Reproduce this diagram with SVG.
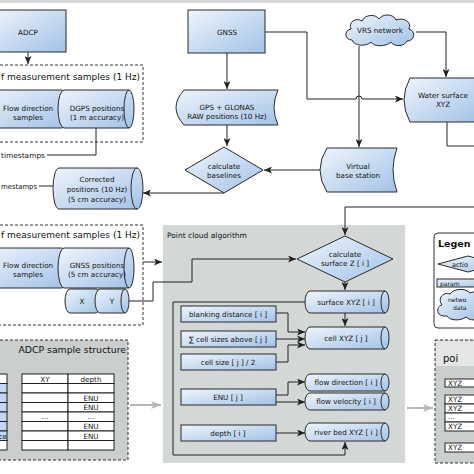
<svg xmlns="http://www.w3.org/2000/svg" width="474" height="474" viewBox="0 0 474 474">
<defs>
<linearGradient id="bl" x1="0" y1="0" x2="1" y2="1">
<stop offset="0" stop-color="#eff5fc"/>
<stop offset="1" stop-color="#a2c2e7"/>
</linearGradient>
<marker id="a" markerWidth="8" markerHeight="7" refX="8" refY="3.5" orient="auto" markerUnits="userSpaceOnUse"><path d="M0,0 L8,3.5 L0,7 L2,3.5 Z" fill="#222"/></marker>
<marker id="ag" markerWidth="10" markerHeight="8" refX="10" refY="4" orient="auto" markerUnits="userSpaceOnUse"><path d="M0,0 L10,4 L0,8 L2.5,4 Z" fill="#b4b7b7"/></marker>
<style>
text{font-family:"DejaVu Sans","Liberation Sans",sans-serif;fill:#111;font-size:7.2px}
.c{text-anchor:middle}
.n{fill:url(#bl);stroke:#2a2a2a;stroke-width:1}
.cap{fill:none;stroke:#2a2a2a;stroke-width:1}
.k{fill:none;stroke:#222;stroke-width:1}
.kg{fill:none;stroke:#b4b7b7;stroke-width:2}
.d{fill:none;stroke:#333;stroke-width:1;stroke-dasharray:3 2}
.t{font-size:9.3px}
.cell{fill:#fff;stroke:#222;stroke-width:1}
.cb{fill:#c3d8f0;stroke:#222;stroke-width:1}
</style>
</defs>
<rect x="0" y="0" width="474" height="3" fill="#d6d6d6"/>

<!-- containers -->
<g id="box-samples-1">
<rect x="-5" y="65" width="148" height="77" class="d" style="fill:#fff"/>
<text x="1" y="80" class="t" textLength="139" lengthAdjust="spacingAndGlyphs">f measurement samples (1 Hz)</text>
</g>
<g id="box-samples-2">
<rect x="-5" y="225" width="148" height="100" class="d" style="fill:#fff"/>
<text x="1" y="238" class="t" textLength="139" lengthAdjust="spacingAndGlyphs">f measurement samples (1 Hz)</text>
</g>
<g id="point-cloud-algorithm">
<rect x="163" y="225" width="242" height="238" fill="#d3d7d6"/>
<text x="167" y="238" style="font-size:7.5px">Point cloud algorithm</text>
</g>
<g id="adcp-sample-structure">
<rect x="-5" y="340" width="133" height="120" class="d" style="fill:#cacecd"/>
<text x="126" y="353" style="font-size:9.3px" text-anchor="end">ADCP sample structure</text>
<rect x="-30" y="374" width="37" height="9.5" class="cell"/>
<rect x="-30" y="383.5" width="37" height="9.5" class="cb"/>
<rect x="-30" y="393" width="37" height="9.5" class="cb"/>
<rect x="-30" y="402.5" width="37" height="9.5" class="cb"/>
<rect x="-30" y="412" width="37" height="9.5" class="cb"/>
<rect x="-30" y="421.5" width="37" height="9.5" class="cb"/>
<rect x="-30" y="431" width="37" height="9.5" class="cb"/>
<rect x="-30" y="440.5" width="37" height="9.5" class="cell"/>
<text x="7" y="439" text-anchor="end">ce</text>
<g>
<rect x="22" y="374" width="46" height="9.5" class="cell"/><rect x="68" y="374" width="46" height="9.5" class="cell"/>
<rect x="22" y="383.5" width="46" height="9.5" class="cell"/><rect x="68" y="383.5" width="46" height="9.5" class="cell"/>
<rect x="22" y="393" width="46" height="9.5" class="cell"/><rect x="68" y="393" width="46" height="9.5" class="cell"/>
<rect x="22" y="402.5" width="46" height="9.5" class="cell"/><rect x="68" y="402.5" width="46" height="9.5" class="cell"/>
<rect x="22" y="412" width="46" height="9.5" class="cell"/><rect x="68" y="412" width="46" height="9.5" class="cell"/>
<rect x="22" y="421.5" width="46" height="9.5" class="cell"/><rect x="68" y="421.5" width="46" height="9.5" class="cell"/>
<rect x="22" y="431" width="46" height="9.5" class="cell"/><rect x="68" y="431" width="46" height="9.5" class="cell"/>
<rect x="22" y="440.5" width="46" height="9.5" class="cell"/><rect x="68" y="440.5" width="46" height="9.5" class="cell"/>
</g>
<text x="45" y="381.5" class="c">XY</text><text x="91" y="381.5" class="c">depth</text>
<text x="91" y="400.5" class="c">ENU</text>
<text x="91" y="410" class="c">ENU</text>
<text x="45" y="418.5" class="c">...</text><text x="91" y="418.5" class="c">...</text>
<text x="91" y="429" class="c">ENU</text>
<text x="91" y="438.5" class="c">ENU</text>
</g>
<g id="point-box">
<rect x="435" y="340" width="50" height="123" class="d" style="fill:#cacecd"/>
<rect x="436" y="341" width="40" height="25" fill="#e3e6e5"/>
<text x="443" y="362" style="font-size:10px">poi</text>
<rect x="445" y="379" width="40" height="8" class="cell"/>
<rect x="445" y="395" width="40" height="9" class="cell"/>
<rect x="445" y="404" width="40" height="9" class="cell"/>
<rect x="445" y="413" width="40" height="9" class="cell"/>
<rect x="445" y="422" width="40" height="9" class="cell"/>
<rect x="445" y="443" width="40" height="9" class="cell"/>
<text x="448" y="385.5">XYZ</text>
<text x="448" y="402">XYZ</text>
<text x="448" y="411">XYZ</text>
<text x="448" y="419">...</text>
<text x="448" y="429">XYZ</text>
<text x="448" y="450">XYZ</text>
</g>
<g id="legend">
<rect x="434" y="233" width="60" height="95" rx="4" fill="#fff" stroke="#333" stroke-width="1"/>
<text x="438" y="247" style="font-size:9.5px;font-weight:bold">Legen</text>
<polygon points="438,264 468,256 498,264 468,272" class="n"/>
<text x="452" y="266.5" style="font-size:6.5px">actio</text>
<rect x="437" y="279" width="50" height="8" class="n"/>
<text x="440" y="285.5" style="font-size:6px">param</text>
<path d="M444,316 C436,316 436,306 442,305 C437,299 443,291 450,294 C454,288 466,288 470,293 C476,290 484,294 482,300 L482,316 C478,321 470,321 466,317 C461,321 450,321 447,316 Z" class="n"/>
<text x="448" y="302" style="font-size:6px">netwo</text>
<text x="453" y="310" style="font-size:6px">data</text>
</g>

<!-- connectors -->
<g id="connectors">
<path d="M28,52 V64" class="k" marker-end="url(#a)"/>
<path d="M227,53 V89" class="k" marker-end="url(#a)"/>
<path d="M265,32 H307 V99 H356 A3,3 0 0 1 362,99 H403" class="k" marker-end="url(#a)"/>
<path d="M416,32 H446 V77" class="k" marker-end="url(#a)"/>
<path d="M359,46 V147" class="k" marker-end="url(#a)"/>
<path d="M447,122 V146 H480" class="k"/>
<path d="M480,207 H345 V235" class="k" marker-end="url(#a)"/>
<path d="M227,125 V146" class="k" marker-end="url(#a)"/>
<path d="M320,170 H264" class="k" marker-end="url(#a)"/>
<path d="M224,193 H143" class="k" marker-end="url(#a)"/>
<path d="M47,155 H96 V128" class="k"/>
<path d="M39,186 H53" class="k"/>
<path d="M143,262 H162" class="k" marker-end="url(#a)"/>
<path d="M129,301 H153 V282 H192 V259 H296" class="k" marker-end="url(#a)"/>
<path d="M345,282 V290" class="k" marker-end="url(#a)"/>
<path d="M345,313 V326" class="k" marker-end="url(#a)"/>
<path d="M276,313 H288 V332 H305" class="k" marker-end="url(#a)"/>
<path d="M276,339 H305" class="k" marker-end="url(#a)"/>
<path d="M276,362 H288 V345 H305" class="k" marker-end="url(#a)"/>
<path d="M276,395 H288 V382 H305" class="k" marker-end="url(#a)"/>
<path d="M276,402 H305" class="k" marker-end="url(#a)"/>
<path d="M276,433 H305" class="k" marker-end="url(#a)"/>
<path d="M305,302 H173 V455 H345 V442" class="k" marker-end="url(#a)"/>
<path d="M130,405 H161" class="kg" marker-end="url(#ag)"/>
<path d="M407,408 H433" class="kg" marker-end="url(#ag)"/>
</g>

<!-- nodes -->
<g id="adcp"><rect x="-10" y="10" width="76" height="42" class="n"/><text x="28" y="35" class="c">ADCP</text></g>
<g id="gnss"><rect x="188" y="10" width="77" height="43" class="n"/><text x="227" y="35" class="c">GNSS</text></g>
<g id="vrs-network">
<path d="M352,40 C344,40 344,30 351,29 C348,22 356,17 362,21 C365,14 376,14 379,19 C383,13 394,14 396,20 C404,17 412,22 409,29 C416,31 415,41 407,41 C404,47 394,47 391,42 C386,47 374,47 371,42 C366,47 354,46 352,40 Z" class="n"/>
<text x="380" y="33" class="c">VRS network</text>
</g>
<g id="water-surface">
<path d="M410,78 H480 V122 H410 Q398,100 410,78 Z" class="n"/>
<text x="443" y="98" class="c">Water surface</text><text x="443" y="107" class="c">XYZ</text>
</g>
<g id="gps-glonas">
<path d="M184,90 H278 Q270,107.5 278,125 H184 Q168,107.5 184,90 Z" class="n"/>
<text x="227" y="109.5" class="c">GPS + GLONAS</text><text x="227" y="119" class="c">RAW positions (10 Hz)</text>
</g>
<g id="calculate-baselines">
<polygon points="185,170 224,147 263,170 224,193" class="n"/>
<text x="224" y="168.5" class="c">calculate</text><text x="224" y="177.5" class="c">baselines</text>
</g>
<g id="virtual-base-station">
<path d="M327,148 H397 Q389,170 397,192 H327 Q313,170 327,148 Z" class="n"/>
<text x="358" y="168.5" class="c">Virtual</text><text x="358" y="177.5" class="c">base station</text>
</g>
<g id="corrected-positions">
<path d="M59,168 H137 A6,20.5 0 0 1 137,209 H59 A6,20.5 0 0 1 59,168 Z" class="n"/>
<path d="M137,168 A6,20.5 0 0 0 137,209" class="cap"/>
<text x="97" y="181.5" class="c">Corrected</text><text x="97" y="191.5" class="c">positions (10 Hz)</text><text x="97" y="201.5" class="c">(5 cm accuracy)</text>
</g>
<g id="flow-direction-1">
<path d="M-20,90 H62 A5,19 0 0 1 62,128 H-20 Z" class="n"/>
<text x="28" y="110.5" class="c">Flow direction</text><text x="28" y="119.5" class="c">samples</text>
</g>
<g id="dgps-positions">
<path d="M64,90 H129 A5,19 0 0 1 129,128 H64 A6,19 0 0 1 64,90 Z" class="n"/>
<path d="M129,90 A5,19 0 0 0 129,128" class="cap"/>
<text x="97" y="110.5" class="c">DGPS positions</text><text x="97" y="119.5" class="c">(1 m accuracy)</text>
</g>
<g id="timestamps"><text x="1" y="157.5" textLength="44" lengthAdjust="spacingAndGlyphs">timestamps</text></g>
<g id="timestamps-2"><text x="1" y="188.5" textLength="36" lengthAdjust="spacingAndGlyphs">mestamps</text></g>
<g id="flow-direction-2">
<path d="M-20,248 H62 A5,20 0 0 1 62,288 H-20 Z" class="n"/>
<text x="28" y="267.5" class="c">Flow direction</text><text x="28" y="276.5" class="c">samples</text>
</g>
<g id="gnss-positions">
<path d="M64,248 H129 A5,20 0 0 1 129,288 H64 A6,20 0 0 1 64,248 Z" class="n"/>
<path d="M129,248 A5,20 0 0 0 129,288" class="cap"/>
<text x="97" y="267.5" class="c">GNSS positions</text><text x="97" y="276.5" class="c">(5 cm accuracy)</text>
</g>
<g id="x">
<path d="M70,289 H96 A4,12 0 0 1 96,313 H70 A5,12 0 0 1 70,289 Z" class="n"/>
<text x="82" y="304" class="c">X</text>
</g>
<g id="y">
<path d="M100,289 H125 A4,12 0 0 1 125,313 H100 A5,12 0 0 1 100,289 Z" class="n"/>
<path d="M125,289 A4,12 0 0 0 125,313" class="cap"/>
<text x="112" y="304" class="c">Y</text>
</g>
<g id="calculate-surface-z">
<polygon points="297,259 345,236 393,259 345,282" class="n"/>
<text x="345" y="256.5" class="c">calculate</text><text x="345" y="266" class="c">surface Z [ i ]</text>
</g>
<g id="surface-xyz">
<path d="M310,291 H385 A4,11 0 0 1 385,313 H310 A5,11 0 0 1 310,291 Z" class="n"/>
<path d="M385,291 A4,11 0 0 0 385,313" class="cap"/>
<text x="346" y="305" class="c">surface XYZ [ i ]</text>
</g>
<g id="cell-xyz">
<path d="M310,327 H385 A4,11 0 0 1 385,349 H310 A5,11 0 0 1 310,327 Z" class="n"/>
<path d="M385,327 A4,11 0 0 0 385,349" class="cap"/>
<text x="346" y="341" class="c">cell XYZ [ j ]</text>
</g>
<g id="flow-direction-i">
<path d="M310,374 H385 A4,8.5 0 0 1 385,391 H310 A5,8.5 0 0 1 310,374 Z" class="n"/>
<path d="M385,374 A4,8.5 0 0 0 385,391" class="cap"/>
<text x="346" y="385" class="c">flow direction [ i ]</text>
</g>
<g id="flow-velocity-i">
<path d="M310,393 H385 A4,8.5 0 0 1 385,410 H310 A5,8.5 0 0 1 310,393 Z" class="n"/>
<path d="M385,393 A4,8.5 0 0 0 385,410" class="cap"/>
<text x="346" y="404" class="c">flow velocity [ i ]</text>
</g>
<g id="river-bed-xyz">
<path d="M310,423 H385 A4,9 0 0 1 385,441 H310 A5,9 0 0 1 310,423 Z" class="n"/>
<path d="M385,423 A4,9 0 0 0 385,441" class="cap"/>
<text x="346" y="434.5" class="c">river bed XYZ [ i ]</text>
</g>
<g id="blanking-distance"><rect x="181" y="306" width="95" height="16" class="n"/><text x="228" y="316.5" class="c">blanking distance [ i ]</text></g>
<g id="cell-sizes-above"><rect x="181" y="331" width="95" height="16" class="n"/><text x="228" y="341.5" class="c">∑ cell sizes above [ j ]</text></g>
<g id="cell-size-half"><rect x="181" y="354" width="95" height="16" class="n"/><text x="228" y="364.5" class="c">cell size [ j ] / 2</text></g>
<g id="enu-j"><rect x="181" y="389" width="95" height="16" class="n"/><text x="228" y="399.5" class="c">ENU [ j ]</text></g>
<g id="depth-i"><rect x="181" y="425" width="95" height="16" class="n"/><text x="228" y="435.5" class="c">depth [ i ]</text></g>
</svg>
